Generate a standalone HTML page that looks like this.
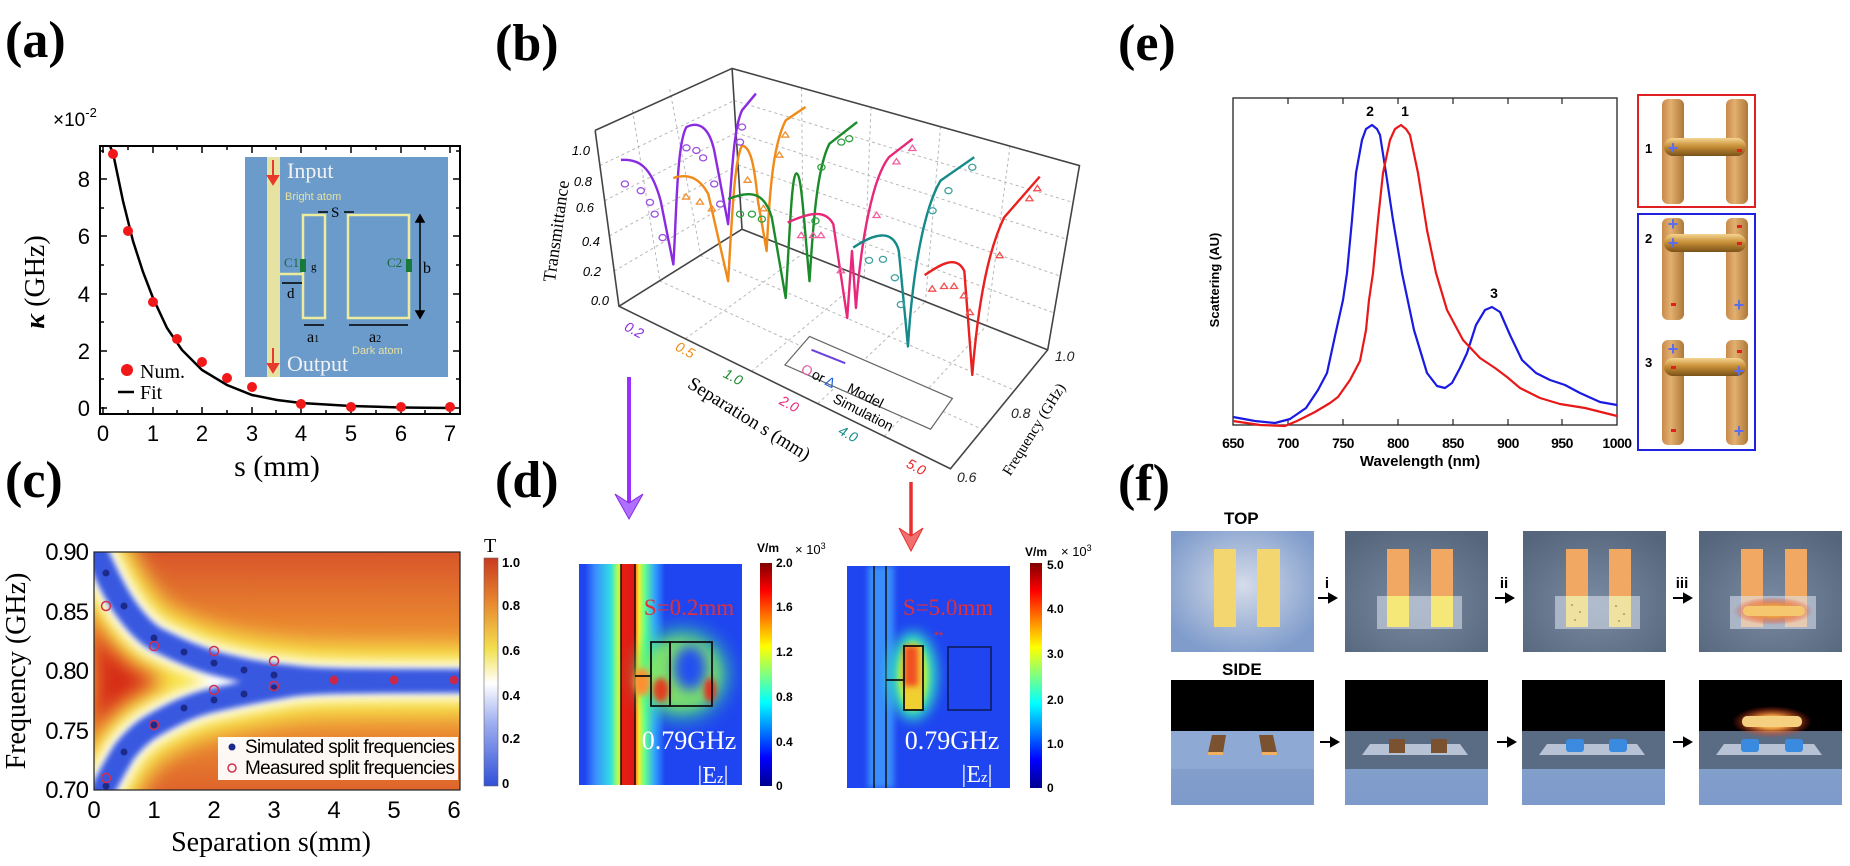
<!DOCTYPE html>
<html><head><meta charset="utf-8"><style>
html,body{margin:0;padding:0;background:#fff;}
svg{display:block;}
text{font-family:"Liberation Sans",sans-serif;}
.sf{font-family:"Liberation Serif",serif;}
.lab{font-family:"Liberation Serif",serif;font-weight:bold;font-size:52px;}
</style></head><body>
<svg width="1850" height="866" viewBox="0 0 1850 866" xmlns="http://www.w3.org/2000/svg">
<defs>
<filter id="b3" x="-50%" y="-50%" width="200%" height="200%"><feGaussianBlur stdDeviation="3"/></filter>
<filter id="b6" x="-50%" y="-50%" width="200%" height="200%"><feGaussianBlur stdDeviation="6"/></filter>
<filter id="b10" x="-50%" y="-50%" width="200%" height="200%"><feGaussianBlur stdDeviation="10"/></filter>
<clipPath id="cpc"><rect x="94" y="552" width="366" height="238"/></clipPath>
<clipPath id="cpd1"><rect x="579" y="564" width="163" height="221"/></clipPath>
<clipPath id="cpd2"><rect x="847" y="566" width="163" height="222"/></clipPath>
<linearGradient id="gbase" x1="0" y1="0" x2="0" y2="1">
<stop offset="0" stop-color="#d8552a"/><stop offset="0.3" stop-color="#e9862f"/><stop offset="0.54" stop-color="#f2b840"/><stop offset="0.78" stop-color="#e9862f"/><stop offset="1" stop-color="#df652c"/></linearGradient>
<linearGradient id="gT" x1="0" y1="0" x2="0" y2="1">
<stop offset="0" stop-color="#c83a20"/><stop offset="0.2" stop-color="#e88a30"/><stop offset="0.4" stop-color="#f2e050"/><stop offset="0.55" stop-color="#ffffff"/><stop offset="0.72" stop-color="#a0b0f0"/><stop offset="1" stop-color="#3050d8"/></linearGradient>
<linearGradient id="jet" x1="0" y1="0" x2="0" y2="1">
<stop offset="0" stop-color="#800000"/><stop offset="0.125" stop-color="#ff0000"/><stop offset="0.375" stop-color="#ffff00"/><stop offset="0.625" stop-color="#00ffff"/><stop offset="0.875" stop-color="#0000ff"/><stop offset="1" stop-color="#00008f"/></linearGradient>
<linearGradient id="strip" x1="0" y1="0" x2="1" y2="0">
<stop offset="0" stop-color="#1f45f0"/><stop offset="0.125" stop-color="#3a8cff"/><stop offset="0.325" stop-color="#30e0e0"/><stop offset="0.4" stop-color="#a0ff60"/><stop offset="0.44" stop-color="#ffe020"/><stop offset="0.45" stop-color="#e82010"/><stop offset="0.625" stop-color="#e01818"/><stop offset="0.64" stop-color="#ff9020"/><stop offset="0.675" stop-color="#f0f030"/><stop offset="0.75" stop-color="#60ff90"/><stop offset="0.875" stop-color="#30a0ff"/><stop offset="1" stop-color="#1f45f0"/></linearGradient>
<linearGradient id="rodg" x1="0" y1="0" x2="0" y2="1"><stop offset="0" stop-color="#f4d590"/><stop offset="0.45" stop-color="#c99038"/><stop offset="1" stop-color="#7a5218"/></linearGradient>
<linearGradient id="barg" x1="0" y1="0" x2="1" y2="0"><stop offset="0" stop-color="#c98a4a"/><stop offset="0.4" stop-color="#e2b070"/><stop offset="1" stop-color="#b07838"/></linearGradient>
<radialGradient id="top1" cx="0.5" cy="0.45" r="0.6"><stop offset="0" stop-color="#d6dcea"/><stop offset="1" stop-color="#7f9ccb"/></radialGradient>
<radialGradient id="topg" cx="0.5" cy="0.6" r="0.7"><stop offset="0" stop-color="#7a8aa0"/><stop offset="1" stop-color="#55657c"/></radialGradient>
<linearGradient id="sideb" x1="0" y1="0" x2="0" y2="1"><stop offset="0" stop-color="#8fa8cc"/><stop offset="1" stop-color="#7d9acb"/></linearGradient>
<radialGradient id="glow" cx="0.5" cy="0.5" r="0.5"><stop offset="0" stop-color="#fff0a0"/><stop offset="0.4" stop-color="#f0a040"/><stop offset="1" stop-color="#e02010" stop-opacity="0"/></radialGradient>
</defs>

<text class="lab" x="5" y="57">(a)</text>
<text class="lab" x="495" y="60">(b)</text>
<text class="lab" x="5" y="497">(c)</text>
<text class="lab" x="495" y="497">(d)</text>
<text class="lab" x="1118" y="60">(e)</text>
<text class="lab" x="1118" y="500">(f)</text>

<!-- (a) -->
<g>
<rect x="100" y="146" width="360" height="268" fill="none" stroke="#000" stroke-width="2"/>
<g stroke="#000" stroke-width="1.5">
<path d="M103,414v-7M128,414v-4M153,414v-7M177,414v-4M202,414v-7M227,414v-4M252,414v-7M276,414v-4M301,414v-7M326,414v-4M351,414v-7M376,414v-4M401,414v-7M425,414v-4M450,414v-7"/>
<path d="M103,146v7M128,146v4M153,146v7M177,146v4M202,146v7M227,146v4M252,146v7M276,146v4M301,146v7M326,146v4M351,146v7M376,146v4M401,146v7M425,146v4M450,146v7"/>
<path d="M100,408h7M100,379h4M100,351h7M100,322h4M100,294h7M100,265h4M100,236h7M100,208h4M100,179h7M100,151h4"/>
<path d="M460,408h-7M460,379h-4M460,351h-7M460,322h-4M460,294h-7M460,265h-4M460,236h-7M460,208h-4M460,179h-7M460,151h-4"/>
</g>
<g font-size="22" text-anchor="end"><text x="90" y="416">0</text><text x="90" y="359">2</text><text x="90" y="302">4</text><text x="90" y="244">6</text><text x="90" y="187">8</text></g>
<g font-size="22" text-anchor="middle"><text x="103" y="441">0</text><text x="153" y="441">1</text><text x="202" y="441">2</text><text x="252" y="441">3</text><text x="301" y="441">4</text><text x="351" y="441">5</text><text x="401" y="441">6</text><text x="450" y="441">7</text></g>
<text x="53" y="126" font-size="19">×10<tspan dy="-9" font-size="13">-2</tspan></text>
<text class="sf" x="277" y="476" font-size="30" text-anchor="middle">s (mm)</text>
<text class="sf" transform="translate(44,282) rotate(-90)" font-size="28" text-anchor="middle"><tspan font-style="italic" font-weight="bold">κ</tspan> (GHz)</text>
<rect x="245" y="157" width="203" height="220" fill="#6b9bca"/>
<rect x="267" y="157" width="13" height="220" fill="#e6e2a2"/>
<g stroke="#e83a2a" stroke-width="2" fill="#e83a2a"><path d="M273,160v20"/><path d="M268,176l5,8l5,-8z"/><path d="M273,348v20"/><path d="M268,364l5,8l5,-8z"/></g>
<text class="sf" x="287" y="178" font-size="22" fill="#f2f2f2">Input</text>
<text x="285" y="200" font-size="11" fill="#e8e0a0">Bright atom</text>
<text class="sf" x="331" y="217" font-size="15">S</text>
<g stroke="#000" stroke-width="1.5"><path d="M318,212h10M344,212h10"/></g>
<g fill="none" stroke="#ecec9c" stroke-width="2.5"><rect x="303" y="215" width="22" height="103"/><rect x="348" y="215" width="61" height="103"/><path d="M280,274h23"/></g>
<rect x="300" y="259" width="6" height="13" fill="#187a3a"/><rect x="406" y="259" width="6" height="13" fill="#187a3a"/>
<text class="sf" x="284" y="267" font-size="13" fill="#1a6a3a">C1</text><text class="sf" x="387" y="267" font-size="13" fill="#1a6a3a">C2</text>
<text class="sf" x="311" y="270" font-size="11">g</text>
<g stroke="#000" stroke-width="1.5" fill="#000"><path d="M420,217v99"/><path d="M416,222l4,-7l4,7zM416,311l4,7l4,-7z"/><path d="M282,283h20M304,325h20M349,325h59"/></g>
<text class="sf" x="423" y="273" font-size="16">b</text>
<text class="sf" x="287" y="298" font-size="15">d</text>
<text class="sf" x="307" y="342" font-size="16">a<tspan font-size="10">1</tspan></text>
<text class="sf" x="369" y="342" font-size="16">a<tspan font-size="10">2</tspan></text>
<text x="352" y="354" font-size="11" fill="#e8e0a0">Dark atom</text>
<text class="sf" x="287" y="371" font-size="22" fill="#f2f2f2">Output</text>
<polyline fill="none" stroke="#000" stroke-width="2.5" points="110,146 113,153 123,201 133,241 143,272 153,298 167,328 182,350 202,370 227,385 252,395 277,400 301,403 351,406 401,407.5 450,408"/>
<g fill="#f01818"><circle cx="113" cy="154" r="5"/><circle cx="128" cy="231" r="5"/><circle cx="153" cy="302" r="5"/><circle cx="177" cy="339" r="5"/><circle cx="202" cy="362" r="5"/><circle cx="227" cy="378" r="5"/><circle cx="252" cy="387" r="5"/><circle cx="301" cy="404" r="5"/><circle cx="351" cy="407" r="5"/><circle cx="401" cy="407" r="5"/><circle cx="450" cy="407" r="5"/><circle cx="127" cy="370" r="6"/></g>
<text class="sf" x="140" y="378" font-size="20">Num.</text>
<path d="M118,392h16" stroke="#000" stroke-width="2.5"/>
<text class="sf" x="140" y="399" font-size="20">Fit</text>
</g>

<!-- (b) -->
<g transform="translate(480,50) scale(0.397,0.335)" fill="none">
<g stroke="#b8b8b8" stroke-width="1" stroke-dasharray="3 3">
<path vector-effect="non-scaling-stroke" d="M640,151L1494,455M645,247L1478,565M650,343L1462,675M655,439L1446,785M810,113L814,607M985,171L968,679M1160,229L1122,751M1335,287L1276,823M302,345L640,151M314,450L645,247M326,555L650,343M338,660L655,439M384,179L453,689M478,117L556,612M452,689L1266,1133M555,613L1347,1016M517,862L814,607M684,959L968,679M851,1056L1122,751M1018,1153L1276,823"/>
</g>
<g stroke="#444" stroke-width="1.6">
<path vector-effect="non-scaling-stroke" d="M290,240L350,765L1185,1250L1430,895L1510,345L635,55L290,240M635,55L660,535L350,765M660,535L1430,895"/>
</g>
<g stroke-width="2.4" stroke-linejoin="round">
<path vector-effect="non-scaling-stroke" stroke="#8a2be2" d="M355,328C395,325 430,340 455,450L487,640C495,500 495,280 520,230C545,215 575,220 590,300L625,520C635,350 640,230 660,180L695,130"/>
<path vector-effect="non-scaling-stroke" stroke="#f08a18" d="M487,382C520,370 550,375 575,430L625,690C635,500 640,330 660,285C680,290 690,330 700,450L722,600C730,400 740,280 770,210L820,170"/>
<path vector-effect="non-scaling-stroke" stroke="#1a8a2a" d="M625,445C680,420 715,420 735,500L770,740C780,550 785,370 797,368C810,370 815,500 830,690C840,500 850,350 880,280L950,215"/>
<path vector-effect="non-scaling-stroke" stroke="#e8287a" d="M775,515C830,485 870,475 890,520L925,800L937,600L947,770C960,560 990,380 1030,320L1090,265"/>
<path vector-effect="non-scaling-stroke" stroke="#148a8a" d="M940,590C990,550 1040,530 1055,600L1078,885C1090,650 1120,470 1160,390L1245,320"/>
<path vector-effect="non-scaling-stroke" stroke="#e82020" d="M1120,672C1160,640 1200,610 1220,660L1240,970C1255,750 1280,600 1320,500L1410,378"/>
</g>
<g stroke-width="1.3">
<g stroke="#9a50e0"><circle vector-effect="non-scaling-stroke" cx="365" cy="400" r="9"/><circle vector-effect="non-scaling-stroke" cx="405" cy="420" r="9"/><circle vector-effect="non-scaling-stroke" cx="428" cy="455" r="9"/><circle vector-effect="non-scaling-stroke" cx="440" cy="490" r="9"/><circle vector-effect="non-scaling-stroke" cx="460" cy="560" r="9"/><circle vector-effect="non-scaling-stroke" cx="520" cy="292" r="9"/><circle vector-effect="non-scaling-stroke" cx="545" cy="300" r="9"/><circle vector-effect="non-scaling-stroke" cx="562" cy="322" r="9"/><circle vector-effect="non-scaling-stroke" cx="590" cy="400" r="9"/><circle vector-effect="non-scaling-stroke" cx="605" cy="460" r="9"/><circle vector-effect="non-scaling-stroke" cx="660" cy="230" r="9"/><circle vector-effect="non-scaling-stroke" cx="655" cy="275" r="9"/></g>
<g stroke="#f09030"><path vector-effect="non-scaling-stroke" d="M510,445l9,-16l9,16zM545,460l9,-16l9,16zM575,480l9,-16l9,16zM705,480l9,-16l9,16zM745,320l9,-16l9,16zM760,260l9,-16l9,16zM665,395l9,-16l9,16z"/></g>
<g stroke="#30a040"><circle vector-effect="non-scaling-stroke" cx="655" cy="490" r="9"/><circle vector-effect="non-scaling-stroke" cx="685" cy="490" r="9"/><circle vector-effect="non-scaling-stroke" cx="710" cy="505" r="9"/><circle vector-effect="non-scaling-stroke" cx="910" cy="275" r="9"/><circle vector-effect="non-scaling-stroke" cx="930" cy="265" r="9"/><circle vector-effect="non-scaling-stroke" cx="860" cy="350" r="9"/><circle vector-effect="non-scaling-stroke" cx="845" cy="510" r="9"/></g>
<g stroke="#f060a0"><path vector-effect="non-scaling-stroke" d="M800,560l9,-16l9,16zM830,560l9,-16l9,16zM850,560l9,-16l9,16zM900,665l9,-16l9,16zM1040,340l9,-16l9,16zM1080,300l9,-16l9,16zM990,500l9,-16l9,16z"/></g>
<g stroke="#40a0a0"><circle vector-effect="non-scaling-stroke" cx="980" cy="628" r="9"/><circle vector-effect="non-scaling-stroke" cx="1015" cy="625" r="9"/><circle vector-effect="non-scaling-stroke" cx="1045" cy="680" r="9"/><circle vector-effect="non-scaling-stroke" cx="1060" cy="760" r="9"/><circle vector-effect="non-scaling-stroke" cx="1180" cy="420" r="9"/><circle vector-effect="non-scaling-stroke" cx="1240" cy="350" r="9"/><circle vector-effect="non-scaling-stroke" cx="1140" cy="480" r="9"/></g>
<g stroke="#f05050"><path vector-effect="non-scaling-stroke" d="M1130,720l9,-16l9,16zM1160,712l9,-16l9,16zM1185,712l9,-16l9,16zM1210,740l9,-16l9,16zM1225,790l9,-16l9,16zM1375,450l9,-16l9,16zM1395,420l9,-16l9,16zM1300,620l9,-16l9,16z"/></g>
</g>
<path vector-effect="non-scaling-stroke" stroke="#666" stroke-width="1.2" fill="#fff" d="M830,855L1190,1040L1135,1132L768,940Z"/>
<path vector-effect="non-scaling-stroke" stroke="#6a40e0" stroke-width="2" d="M835,895L920,935"/>
</g>
<g class="sf" font-style="italic" font-size="13" text-anchor="end">
<text x="590" y="155">1.0</text><text x="592" y="186">0.8</text><text x="594" y="212">0.6</text><text x="600" y="246">0.4</text><text x="601" y="276">0.2</text><text x="609" y="305">0.0</text></g>
<text class="sf" font-size="18" transform="translate(562,232) rotate(-82)" text-anchor="middle">Transmittance</text>
<g class="sf" font-style="italic" font-size="14">
<text x="625" y="333" fill="#8a2be2" transform="rotate(28 631 328)">0.2</text>
<text x="676" y="353" fill="#f08a18" transform="rotate(28 682 348)">0.5</text>
<text x="724" y="380" fill="#1a8a2a" transform="rotate(28 730 375)">1.0</text>
<text x="780" y="407" fill="#e8287a" transform="rotate(28 786 402)">2.0</text>
<text x="839" y="437" fill="#148a8a" transform="rotate(28 845 432)">4.0</text>
<text x="907" y="470" fill="#e82020" transform="rotate(28 913 465)">5.0</text>
<text x="1055" y="361" fill="#222">1.0</text><text x="1011" y="418" fill="#222">0.8</text><text x="957" y="482" fill="#222">0.6</text>
</g>
<text class="sf" font-size="19" transform="translate(746,424) rotate(32)" text-anchor="middle">Separation s (mm)</text>
<text class="sf" font-size="15" transform="translate(1038,432) rotate(-58)" text-anchor="middle">Frequency (GHz)</text>
<g class="sf" font-size="14" transform="translate(800,372) rotate(27)"><text x="0" y="0" fill="#e060a0">O</text><text x="12" y="0">or</text><text x="27" y="0" fill="#2060e0">Δ</text><text x="50" y="-4">Model</text><text x="42" y="12">Simulation</text></g>
<path d="M629,377V506" stroke="#9a30ff" stroke-width="4"/>
<path d="M615,494L629,519L643,494L629,503Z" fill="#b070ff" stroke="#8a2be2" stroke-width="1"/>
<path d="M911,482V540" stroke="#e83030" stroke-width="3.5"/>
<path d="M899,528L911,551L923,528L911,536Z" fill="#f07070" stroke="#e83030" stroke-width="1"/>

<!-- (c) -->
<g clip-path="url(#cpc)">
<rect x="94" y="552" width="366" height="238" fill="url(#gbase)"/>
<path d="M94,575C115,630 160,665 250,681C160,697 115,732 94,785Z" fill="#d62a18" filter="url(#b10)"/>
<g fill="none" stroke-linecap="round">
<g id="br"><path d="M90,540C100,560 110,585 124,606C135,622 145,632 154,638C170,646 190,656 214,663C240,670 260,674 290,677C310,680 330,681 470,681"/><path d="M90,815C100,795 110,775 124,752C135,738 145,730 154,725C170,716 190,705 214,700C240,694 260,690 290,685C310,682 330,681 470,681"/></g>
<use href="#br" stroke="#f8e44a" stroke-width="68" filter="url(#b10)"/>
<use href="#br" stroke="#ffffff" stroke-width="38" filter="url(#b6)"/>
<use href="#br" stroke="#3858e0" stroke-width="24" filter="url(#b3)"/>
</g>
</g>
<rect x="94" y="552" width="366" height="238" fill="none" stroke="#222" stroke-width="1.2"/>
<g fill="#1c2a8a"><circle cx="106" cy="573" r="3.5"/><circle cx="124" cy="606" r="3.5"/><circle cx="154" cy="638" r="3.5"/><circle cx="184" cy="652" r="3.5"/><circle cx="214" cy="663" r="3.5"/><circle cx="244" cy="670" r="3.5"/><circle cx="274" cy="675" r="3.5"/><circle cx="124" cy="752" r="3.5"/><circle cx="154" cy="725" r="3.5"/><circle cx="184" cy="708" r="3.5"/><circle cx="214" cy="700" r="3.5"/><circle cx="244" cy="694" r="3.5"/><circle cx="274" cy="688" r="3.5"/><circle cx="106" cy="786" r="3.5"/></g>
<g fill="none" stroke="#d03050" stroke-width="1.5"><circle cx="106" cy="606" r="4.5"/><circle cx="154" cy="646" r="4.5"/><circle cx="154" cy="725" r="4.5"/><circle cx="214" cy="651" r="4.5"/><circle cx="214" cy="690" r="4.5"/><circle cx="274" cy="661" r="4.5"/><circle cx="274" cy="686" r="4.5"/><circle cx="106" cy="778" r="4.5"/></g>
<g fill="#c8284a"><circle cx="334" cy="680" r="4.5"/><circle cx="394" cy="680" r="4.5"/><circle cx="454" cy="680" r="4.5"/></g>
<rect x="218" y="737" width="240" height="43" fill="#fff" opacity="0.95"/>
<circle cx="232" cy="747" r="3.5" fill="#1c2a8a"/><circle cx="232" cy="768" r="4" fill="none" stroke="#d03050" stroke-width="1.5"/>
<g class="sf" font-size="19"><text x="245" y="753" textLength="210">Simulated split frequencies</text><text x="245" y="774" textLength="210">Measured split frequencies</text></g>
<g class="sf" font-size="24" text-anchor="end" letter-spacing="-1"><text x="88" y="560">0.90</text><text x="88" y="620">0.85</text><text x="88" y="679">0.80</text><text x="88" y="739">0.75</text><text x="88" y="798">0.70</text></g>
<g class="sf" font-size="24" text-anchor="middle"><text x="94" y="818">0</text><text x="154" y="818">1</text><text x="214" y="818">2</text><text x="274" y="818">3</text><text x="334" y="818">4</text><text x="394" y="818">5</text><text x="454" y="818">6</text></g>
<text class="sf" x="271" y="851" font-size="28" text-anchor="middle">Separation s(mm)</text>
<text class="sf" font-size="28" transform="translate(25,671) rotate(-90)" text-anchor="middle">Frequency (GHz)</text>
<rect x="484" y="558" width="14" height="228" fill="url(#gT)" stroke="#666" stroke-width="0.6"/>
<text class="sf" x="484" y="552" font-size="20">T</text>
<g class="sf" font-size="13" font-weight="bold"><text x="502" y="567">1.0</text><text x="502" y="610">0.8</text><text x="502" y="655">0.6</text><text x="502" y="700">0.4</text><text x="502" y="743">0.2</text><text x="502" y="788">0</text></g>

<!-- (d) -->
<g clip-path="url(#cpd1)">
<rect x="579" y="564" width="163" height="221" fill="#1f45f0"/>
<rect x="585" y="564" width="80" height="221" fill="url(#strip)"/>
<path d="M621,564V785M635,564V785" stroke="#111" stroke-width="1.5"/>
<ellipse cx="682" cy="674" rx="45" ry="44" fill="#40f080" filter="url(#b10)" opacity="0.8"/>
<ellipse cx="682" cy="674" rx="38" ry="36" fill="#c0f040" filter="url(#b6)" opacity="0.5"/>
<ellipse cx="690" cy="668" rx="16" ry="22" fill="#2050f0" filter="url(#b6)"/>
<ellipse cx="661" cy="690" rx="8" ry="12" fill="#e04020" filter="url(#b3)"/>
<ellipse cx="710" cy="690" rx="6" ry="12" fill="#e03020" filter="url(#b3)"/>
<ellipse cx="642" cy="682" rx="8" ry="14" fill="#ff9030" filter="url(#b3)"/>
<g fill="none" stroke="#111" stroke-width="1.8"><rect x="651" y="642" width="19" height="64"/><rect x="670" y="642" width="42" height="64"/><path d="M635,676H651"/></g>
</g>
<text class="sf" x="689" y="615" font-size="23" fill="#e0303a" text-anchor="middle">S=0.2mm</text>
<text class="sf" x="689" y="749" font-size="26" fill="#fff" text-anchor="middle">0.79GHz</text>
<text class="sf" x="713" y="783" font-size="24" fill="#fff" text-anchor="middle">|E<tspan font-size="15">z</tspan>|</text>
<rect x="760" y="563" width="12" height="223" fill="url(#jet)"/>
<g class="sf" font-size="12" font-weight="bold"><text x="776" y="567">2.0</text><text x="776" y="611">1.6</text><text x="776" y="656">1.2</text><text x="776" y="701">0.8</text><text x="776" y="746">0.4</text><text x="776" y="790">0</text>
<text x="757" y="552">V/m</text><text x="795" y="554" font-weight="normal" font-size="13">× 10<tspan dy="-5" font-size="9">3</tspan></text></g>

<g clip-path="url(#cpd2)">
<rect x="847" y="566" width="163" height="222" fill="#1f45f0"/>
<rect x="868" y="566" width="26" height="222" fill="#40a0ff" filter="url(#b3)" opacity="0.8"/>
<path d="M874,566V788M886,566V788" stroke="#111" stroke-width="1.5"/>
<ellipse cx="913" cy="676" rx="24" ry="44" fill="#30e0c0" filter="url(#b6)"/>
<ellipse cx="913" cy="676" rx="15" ry="34" fill="#c0f040" filter="url(#b3)"/>
<rect x="904" y="646" width="19" height="64" fill="#f0d030"/>
<rect x="904" y="646" width="14" height="40" fill="#f05020" filter="url(#b3)"/>
<g fill="none" stroke="#111" stroke-width="1.8"><rect x="904" y="646" width="19" height="64"/><path d="M886,680H904"/></g>
<rect x="948" y="647" width="43" height="63" fill="none" stroke="#102070" stroke-width="1.8"/>
</g>
<text class="sf" x="948" y="615" font-size="23" fill="#e0303a" text-anchor="middle">S=5.0mm</text>
<text x="934" y="640" font-size="12" fill="#e03030">**</text>
<text class="sf" x="952" y="749" font-size="26" fill="#fff" text-anchor="middle">0.79GHz</text>
<text class="sf" x="977" y="782" font-size="24" fill="#fff" text-anchor="middle">|E<tspan font-size="15">z</tspan>|</text>
<rect x="1030" y="563" width="12" height="225" fill="url(#jet)"/>
<g class="sf" font-size="12" font-weight="bold"><text x="1047" y="569">5.0</text><text x="1047" y="613">4.0</text><text x="1047" y="658">3.0</text><text x="1047" y="704">2.0</text><text x="1047" y="748">1.0</text><text x="1047" y="792">0</text>
<text x="1025" y="556">V/m</text><text x="1061" y="556" font-weight="normal" font-size="13">× 10<tspan dy="-5" font-size="9">3</tspan></text></g>

<!-- (e) -->
<rect x="1233" y="98" width="384" height="327" fill="none" stroke="#222" stroke-width="1.3"/>
<g stroke="#222" stroke-width="1.2"><path d="M1288,425v-6M1343,425v-6M1398,425v-6M1453,425v-6M1508,425v-6M1562,425v-6M1288,98v6M1343,98v6M1398,98v6M1453,98v6M1508,98v6M1562,98v6"/></g>
<polyline fill="none" stroke="#1a1ae0" stroke-width="2.2" stroke-linejoin="round" points="1233,417 1255,421 1275,423 1290,419 1306,408 1318,390 1327,373 1335,336 1343,300 1347,273 1352,220 1356,173 1362,140 1366,129 1372,125 1377,129 1380,135 1386,173 1393,220 1402,273 1414,330 1427,373 1437,386 1445,388 1452,383 1460,368 1467,353 1476,325 1485,310 1492,307 1500,312 1510,335 1522,360 1536,373 1550,380 1565,385 1580,393 1600,402 1617,405"/>
<polyline fill="none" stroke="#e81818" stroke-width="2.2" stroke-linejoin="round" points="1233,421 1260,425 1285,426 1297,421 1315,412 1330,403 1338,397 1350,380 1360,361 1366,330 1369,300 1373,273 1378,220 1383,173 1390,140 1395,129 1401,125 1406,129 1410,135 1418,173 1427,230 1436,273 1447,310 1463,340 1480,358 1495,368 1507,377 1520,388 1540,398 1560,404 1585,408 1617,416"/>
<g font-size="14" font-weight="bold" text-anchor="middle"><text x="1370" y="116">2</text><text x="1405" y="116">1</text><text x="1494" y="298">3</text></g>
<g font-size="14" font-weight="bold" text-anchor="middle" letter-spacing="-0.5"><text x="1233" y="448">650</text><text x="1288" y="448">700</text><text x="1343" y="448">750</text><text x="1398" y="448">800</text><text x="1453" y="448">850</text><text x="1508" y="448">900</text><text x="1562" y="448">950</text><text x="1617" y="448">1000</text></g>
<text x="1420" y="466" font-size="15" font-weight="bold" text-anchor="middle">Wavelength (nm)</text>
<text transform="translate(1219,280) rotate(-90)" font-size="13" font-weight="bold" text-anchor="middle">Scattering (AU)</text>
<rect x="1638" y="95" width="117" height="112" fill="#fff" stroke="#e02020" stroke-width="2"/>
<rect x="1638" y="214" width="117" height="236" fill="#fff" stroke="#2020e0" stroke-width="2"/>
<g>
<rect x="1662" y="99" width="22" height="105" rx="6" fill="url(#barg)"/><rect x="1726" y="99" width="22" height="105" rx="6" fill="url(#barg)"/>
<rect x="1664" y="138" width="82" height="18" rx="9" fill="url(#rodg)"/>
<rect x="1662" y="218" width="22" height="102" rx="6" fill="url(#barg)"/><rect x="1726" y="218" width="22" height="102" rx="6" fill="url(#barg)"/>
<rect x="1664" y="234" width="82" height="18" rx="9" fill="url(#rodg)"/>
<rect x="1662" y="340" width="22" height="105" rx="6" fill="url(#barg)"/><rect x="1726" y="340" width="22" height="105" rx="6" fill="url(#barg)"/>
<rect x="1664" y="358" width="82" height="18" rx="9" fill="url(#rodg)"/>
</g>
<g font-size="13" font-weight="bold"><text x="1645" y="153">1</text><text x="1645" y="243">2</text><text x="1645" y="367">3</text></g>
<g fill="#5a6cf0" font-size="18" font-weight="bold" text-anchor="middle"><text x="1673" y="154">+</text><text x="1673" y="230">+</text><text x="1673" y="249">+</text><text x="1739" y="311">+</text><text x="1673" y="355">+</text><text x="1739" y="377">+</text><text x="1739" y="437">+</text></g>
<g fill="#e02020"><rect x="1737" y="149" width="5" height="3"/><rect x="1737" y="225" width="5" height="3"/><rect x="1737" y="242" width="5" height="3"/><rect x="1671" y="303" width="5" height="3"/><rect x="1671" y="366" width="5" height="3"/><rect x="1737" y="350" width="5" height="3"/><rect x="1671" y="429" width="5" height="3"/></g>

<!-- (f) -->
<text x="1224" y="524" font-size="17" font-weight="bold">TOP</text>
<text x="1222" y="675" font-size="17" font-weight="bold">SIDE</text>
<rect x="1171" y="531" width="143" height="121" fill="url(#top1)"/>
<rect x="1214" y="549" width="22" height="78" fill="#f4d670"/><rect x="1257" y="549" width="23" height="78" fill="#f4d670"/>
<rect x="1345" y="531" width="143" height="121" fill="url(#topg)"/>
<rect x="1523" y="531" width="143" height="121" fill="url(#topg)"/>
<rect x="1699" y="531" width="143" height="121" fill="url(#topg)"/>
<g fill="#f0a862"><rect x="1387" y="549" width="22" height="78"/><rect x="1431" y="549" width="22" height="78"/><rect x="1566" y="549" width="22" height="78"/><rect x="1609" y="549" width="22" height="78"/><rect x="1741" y="549" width="22" height="78"/><rect x="1785" y="549" width="22" height="78"/></g>
<g fill="#dfe6f2" opacity="0.55"><rect x="1377" y="596" width="85" height="33"/><rect x="1555" y="596" width="85" height="33"/><rect x="1730" y="596" width="86" height="33"/></g>
<g fill="#f6e878"><rect x="1387" y="596" width="22" height="31"/><rect x="1431" y="596" width="22" height="31"/></g>
<g fill="#efe2a0"><rect x="1566" y="596" width="22" height="31"/><rect x="1609" y="596" width="22" height="31"/></g>
<g fill="#555" opacity="0.5"><circle cx="1572" cy="605" r="1"/><circle cx="1580" cy="612" r="1"/><circle cx="1575" cy="620" r="1"/><circle cx="1616" cy="606" r="1"/><circle cx="1624" cy="614" r="1"/><circle cx="1619" cy="621" r="1"/></g>
<ellipse cx="1773" cy="611" rx="40" ry="14" fill="url(#glow)"/>
<rect x="1743" y="606" width="62" height="10" rx="5" fill="#f5c870"/>
<g font-size="15" font-weight="bold" text-anchor="middle"><text x="1327" y="588">i</text><text x="1504" y="588">ii</text><text x="1682" y="588">iii</text></g>
<g stroke="#000" stroke-width="2" fill="#000"><path d="M1318,598h12M1495,598h12M1673,598h12M1320,742h12M1497,742h12M1673,742h12"/><path d="M1329,594l7,4l-7,4zM1506,594l7,4l-7,4zM1684,594l7,4l-7,4zM1331,738l7,4l-7,4zM1508,738l7,4l-7,4zM1684,738l7,4l-7,4z"/></g>
<g>
<rect x="1171" y="680" width="143" height="125" fill="url(#sideb)"/><rect x="1171" y="680" width="143" height="51" fill="#000"/><rect x="1171" y="731" width="143" height="38" fill="#8eaad4"/>
<rect x="1345" y="680" width="143" height="125" fill="url(#sideb)"/><rect x="1345" y="680" width="143" height="51" fill="#000"/><rect x="1345" y="731" width="143" height="38" fill="#5a6c84"/>
<rect x="1522" y="680" width="143" height="125" fill="url(#sideb)"/><rect x="1522" y="680" width="143" height="51" fill="#000"/><rect x="1522" y="731" width="143" height="38" fill="#5a6c84"/>
<rect x="1699" y="680" width="143" height="125" fill="url(#sideb)"/><rect x="1699" y="680" width="143" height="51" fill="#000"/><rect x="1699" y="731" width="143" height="38" fill="#5a6c84"/>
</g>
<g fill="#7a5230"><path d="M1212,735h14l-3,18h-15z"/><path d="M1259,735h14l4,18h-15z"/></g>
<g fill="#f0b060"><rect x="1208" y="752" width="15" height="3"/><rect x="1262" y="752" width="15" height="3"/></g>
<g fill="#c8d2e2" opacity="0.85"><path d="M1370,744h90l8,11h-106z"/><path d="M1547,744h90l8,11h-106z"/><path d="M1724,744h90l8,11h-106z"/></g>
<g fill="#7a5230"><rect x="1389" y="739" width="16" height="14"/><rect x="1431" y="739" width="16" height="14"/></g>
<g fill="#3a8ae0"><rect x="1566" y="739" width="18" height="13" rx="3"/><rect x="1609" y="739" width="18" height="13" rx="3"/><rect x="1741" y="739" width="18" height="13" rx="3"/><rect x="1785" y="739" width="18" height="13" rx="3"/></g>
<ellipse cx="1772" cy="722" rx="40" ry="16" fill="url(#glow)"/>
<rect x="1742" y="716" width="60" height="11" rx="5" fill="#f5d080"/>
</svg>
</body></html>
